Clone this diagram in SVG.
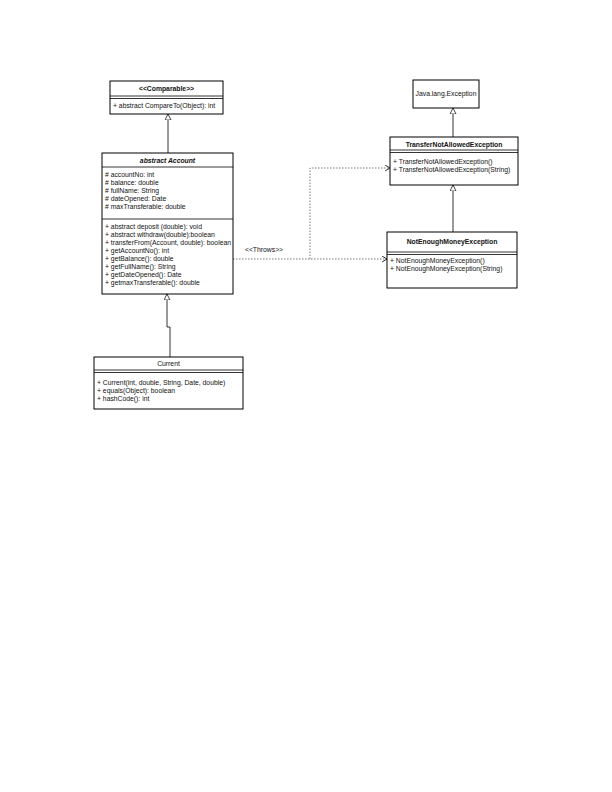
<svg xmlns="http://www.w3.org/2000/svg" width="612" height="792" viewBox="0 0 612 792">
<style>
.box{fill:#fff;stroke:#000;stroke-width:1}
.sep{stroke:#000;stroke-width:0.8}
.t{font-family:"Liberation Sans",Arial,sans-serif;font-size:6.8px;fill:#111}
.c{text-anchor:middle}
.b{font-weight:bold}
.edge{fill:none;stroke:#000;stroke-width:0.8}
.dash{fill:none;stroke:#555;stroke-width:0.8;stroke-dasharray:1.5,1.5}
</style>
<defs>
<marker id="tri" markerWidth="8" markerHeight="8" refX="6" refY="3" orient="auto" markerUnits="userSpaceOnUse">
<path d="M0,0 L6,3 L0,6 Z" fill="#fff" stroke="#000" stroke-width="0.7"/>
</marker>
<marker id="open" markerWidth="8" markerHeight="8" refX="5" refY="3" orient="auto" markerUnits="userSpaceOnUse">
<path d="M0,0 L5,3 L0,6" fill="none" stroke="#000" stroke-width="0.8"/>
</marker>
</defs>
<rect width="612" height="792" fill="#fff"/>

<g id="connectors">
<path class="edge" d="M168,153 L168,114" marker-end="url(#tri)"/>
<path class="edge" d="M170,357 L170,327 L167,327 L167,294" marker-end="url(#tri)"/>
<path class="edge" d="M453,137 L453,108" marker-end="url(#tri)"/>
<path class="edge" d="M453,232 L453,185" marker-end="url(#tri)"/>
<path class="dash" d="M233,259 L387,259" marker-end="url(#open)"/>
<path class="dash" d="M310,259 L310,168 L390,168" marker-end="url(#open)"/>
<text class="t" x="264" y="252" text-anchor="middle" font-size="6">&lt;&lt;Throws&gt;&gt;</text>
</g>

<g id="comparable">
<rect class="box" x="110" y="81" width="113" height="33"/>
<line class="sep" x1="110" y1="96" x2="223" y2="96"/>
<line class="sep" x1="110" y1="98.5" x2="223" y2="98.5"/>
<text class="t c b" x="166.5" y="91">&lt;&lt;Comparable&gt;&gt;</text>
<text class="t" x="113" y="108">+ abstract CompareTo(Object): int</text>
</g>

<g id="account">
<rect class="box" x="102" y="153" width="131" height="141"/>
<line class="sep" x1="102" y1="167" x2="233" y2="167"/>
<text class="t c b" x="167.5" y="163" font-style="italic">abstract Account</text>
<text class="t" x="105" y="177">#  accountNo: int</text>
<text class="t" x="105" y="185">#  balance: double</text>
<text class="t" x="105" y="193">#  fullName: String</text>
<text class="t" x="105" y="201">#  dateOpened: Date</text>
<text class="t" x="105" y="209">#  maxTransferable: double</text>
<line class="sep" x1="102" y1="219" x2="233" y2="219" stroke="#888"/>
<text class="t" x="105" y="229">+ abstract deposit (double): void</text>
<text class="t" x="105" y="237">+ abstract withdraw(double):boolean</text>
<text class="t" x="105" y="245">+ transferFrom(Account, double): boolean</text>
<text class="t" x="105" y="253">+ getAccountNo(): int</text>
<text class="t" x="105" y="261">+ getBalance(): double</text>
<text class="t" x="105" y="269">+ getFullName(): String</text>
<text class="t" x="105" y="277">+ getDateOpened(): Date</text>
<text class="t" x="105" y="285">+ getmaxTransferable(): double</text>
</g>

<g id="current">
<rect class="box" x="94" y="357" width="149" height="52"/>
<line class="sep" x1="94" y1="370" x2="243" y2="370"/>
<line class="sep" x1="94" y1="372.5" x2="243" y2="372.5"/>
<text class="t c" x="168.5" y="366">Current</text>
<text class="t" x="97" y="385">+ Current(int, double, String, Date, double)</text>
<text class="t" x="97" y="393">+ equals(Object): boolean</text>
<text class="t" x="97" y="401">+ hashCode(): int</text>
</g>

<g id="exception">
<rect class="box" x="413" y="80" width="66" height="28" stroke="#555"/>
<text class="t c" x="446" y="96" font-size="6.6">Java.lang.Exception</text>
</g>

<g id="transfer">
<rect class="box" x="390" y="137" width="128" height="48"/>
<line class="sep" x1="390" y1="150" x2="518" y2="150"/>
<line class="sep" x1="390" y1="152.5" x2="518" y2="152.5"/>
<text class="t c b" x="454" y="147">TransferNotAllowedException</text>
<text class="t" x="393" y="164">+ TransferNotAllowedException()</text>
<text class="t" x="393" y="172">+ TransferNotAllowedException(String)</text>
</g>

<g id="notenough">
<rect class="box" x="387" y="232" width="130" height="56"/>
<line class="sep" x1="387" y1="252" x2="517" y2="252"/>
<line class="sep" x1="387" y1="254.5" x2="517" y2="254.5"/>
<text class="t c b" x="452" y="244">NotEnoughMoneyException</text>
<text class="t" x="390" y="263">+ NotEnoughMoneyException()</text>
<text class="t" x="390" y="271">+ NotEnoughMoneyException(String)</text>
</g>
</svg>
